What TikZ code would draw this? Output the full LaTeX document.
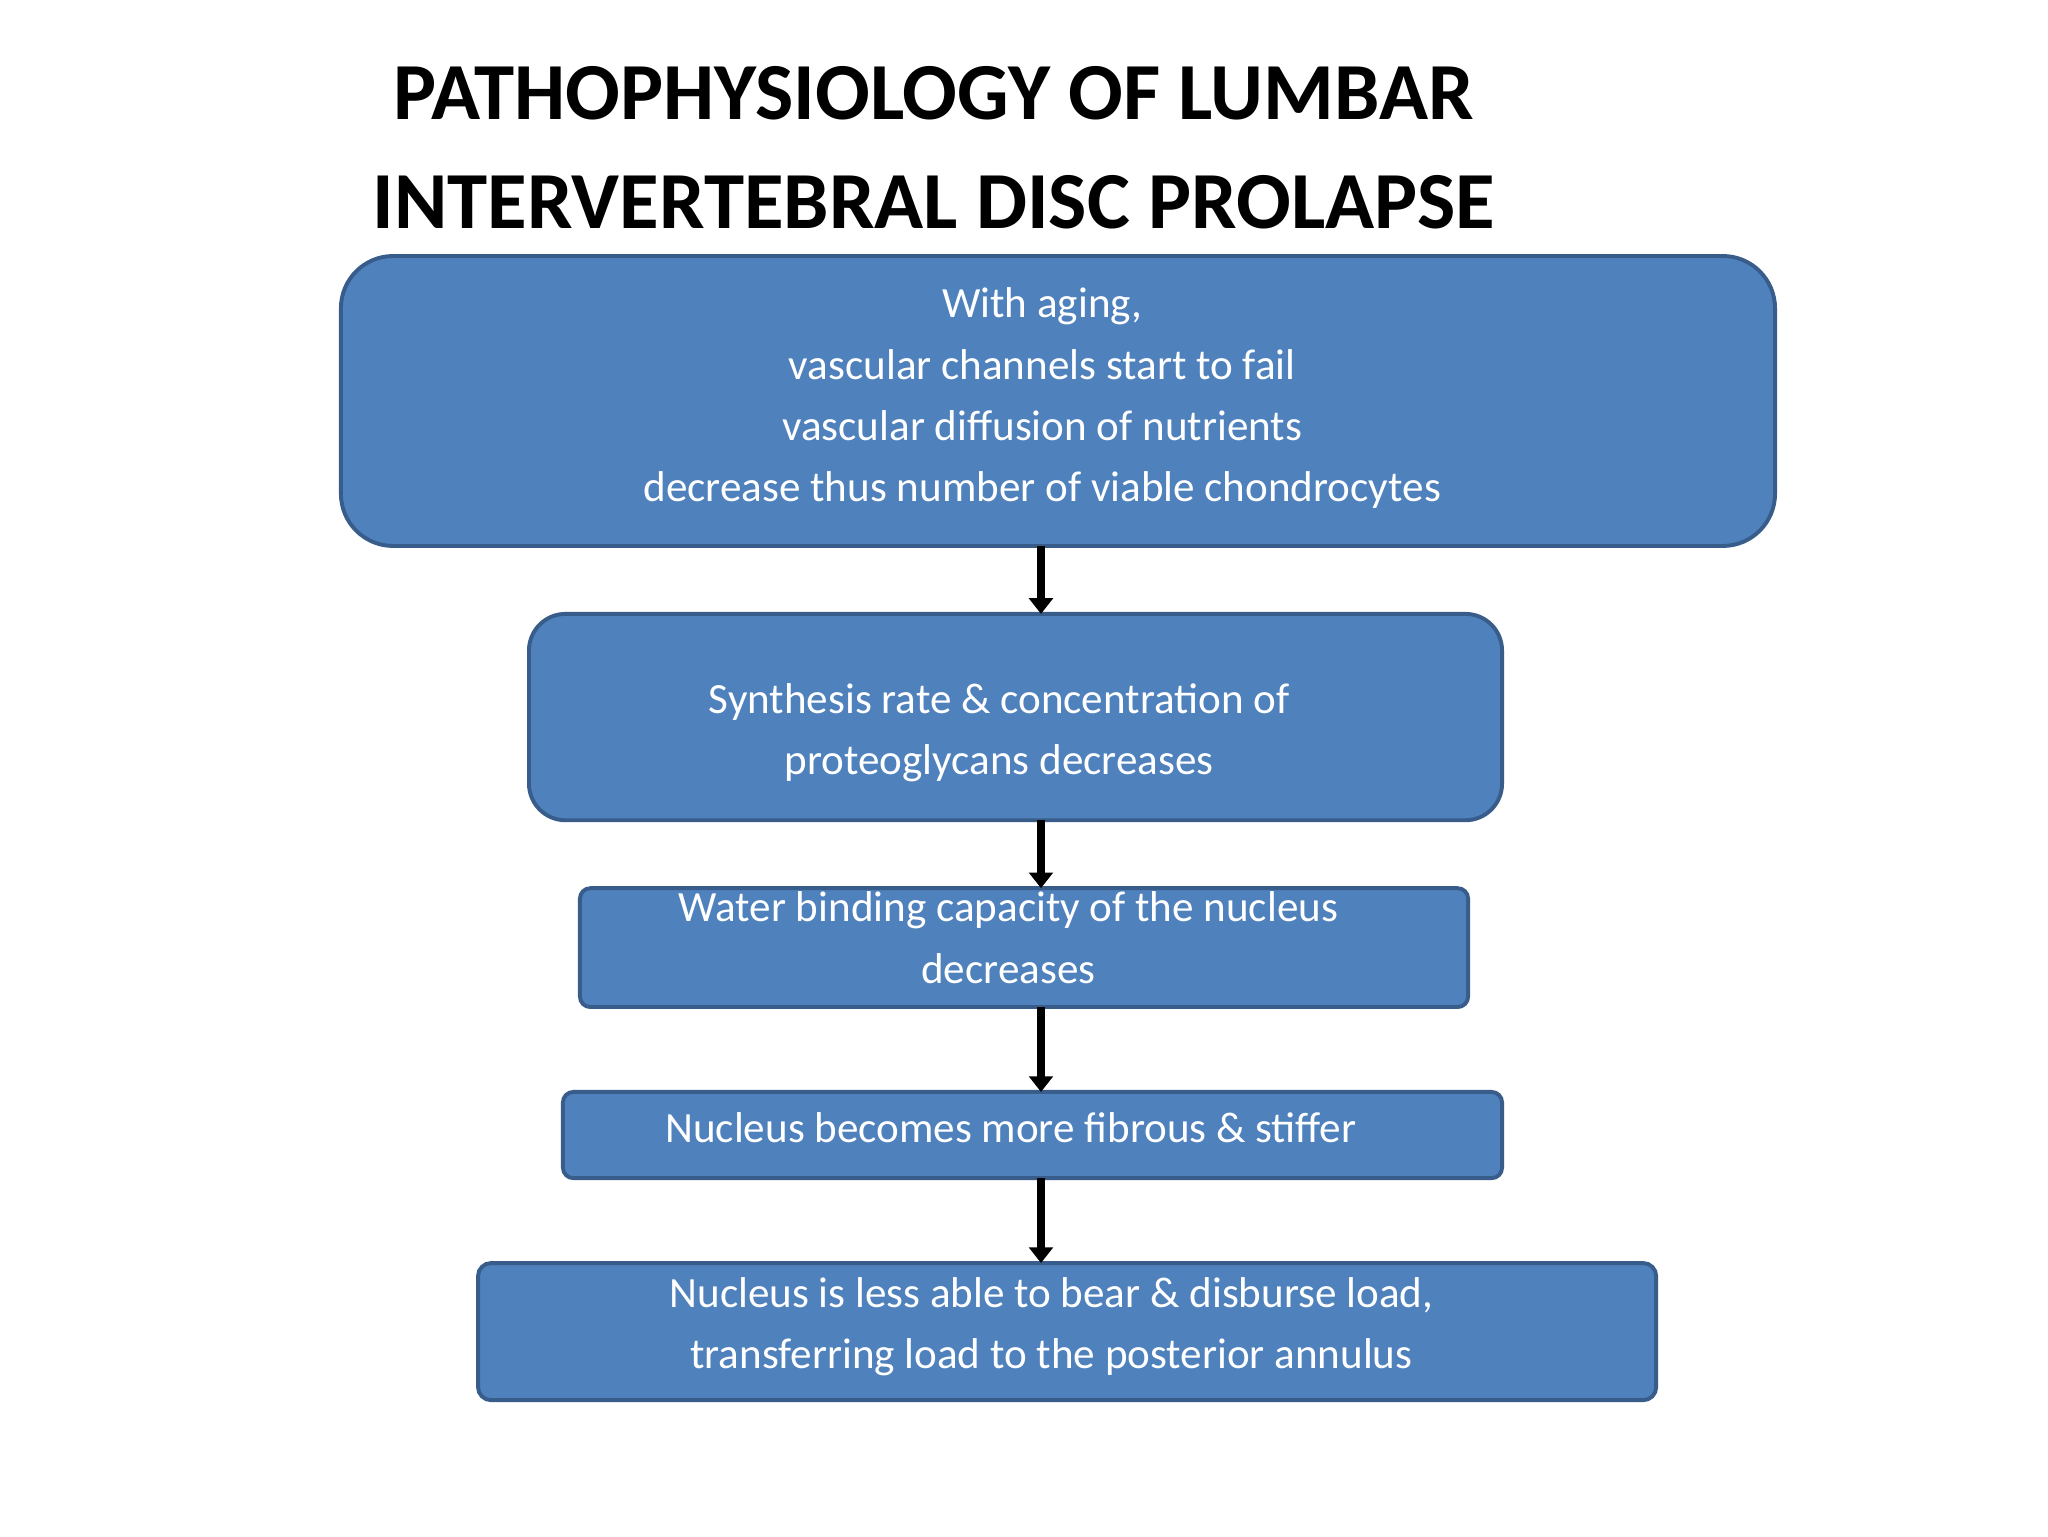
\documentclass[tikz,border=0pt]{standalone}
\usepackage{fontspec}
\setmainfont{Carlito}
\usetikzlibrary{arrows.meta}
\definecolor{boxfill}{HTML}{4F81BD}
\definecolor{boxline}{HTML}{385D8A}
\tikzset{
 box/.style={draw=boxline,line width=3pt,fill=boxfill,inner sep=0pt},
 txt/.style={text=white,font=\fontsize{33}{47}\selectfont,align=center,inner sep=0pt},
 flow/.style={line width=6pt,-{Triangle[length=12pt,width=18pt]},black}
}
\begin{document}
\begin{tikzpicture}[x=1pt,y=-1pt]
\useasboundingbox (0,0) rectangle (1568,1176);
\fill[white] (0,0) rectangle (1568,1176);
\node[font=\fontsize{62}{83}\selectfont\bfseries,align=center] (title) at (715,113) {PATHOPHYSIOLOGY OF LUMBAR\\INTERVERTEBRAL DISC PROLAPSE};
\node[box,rounded corners=40pt,minimum width=1098pt,minimum height=222pt] (b1) at (810,307) {};
\node[box,rounded corners=28pt,minimum width=745pt,minimum height=158pt] (b2) at (777.5,549) {};
\node[box,rounded corners=8pt,minimum width=680pt,minimum height=91pt] (b3) at (784,725.5) {};
\node[box,rounded corners=8pt,minimum width=719pt,minimum height=66pt] (b4) at (790.5,869) {};
\node[box,rounded corners=10pt,minimum width=902pt,minimum height=105pt] (b5) at (817,1019.5) {};
\node[txt] (t1) at (798,305) {With aging,\\vascular channels start to fail\\vascular diffusion of nutrients\\decrease thus number of viable chondrocytes};
\node[txt] (t2) at (765,561) {Synthesis rate \& concentration of\\proteoglycans decreases};
\node[txt] (t3) at (772,718) {Water binding capacity of the nucleus\\decreases};
\node[txt] (t4) at (774,863) {Nucleus becomes more fibrous \& stiffer};
\node[txt] (t5) at (805,1016) {Nucleus is less able to bear \& disburse load,\\transferring load to the posterior annulus};
\draw[flow] (797,418) -- (797,470);
\draw[flow] (797,628) -- (797,680);
\draw[flow] (797,771) -- (797,836);
\draw[flow] (797,902) -- (797,967);
\end{tikzpicture}
\end{document}
